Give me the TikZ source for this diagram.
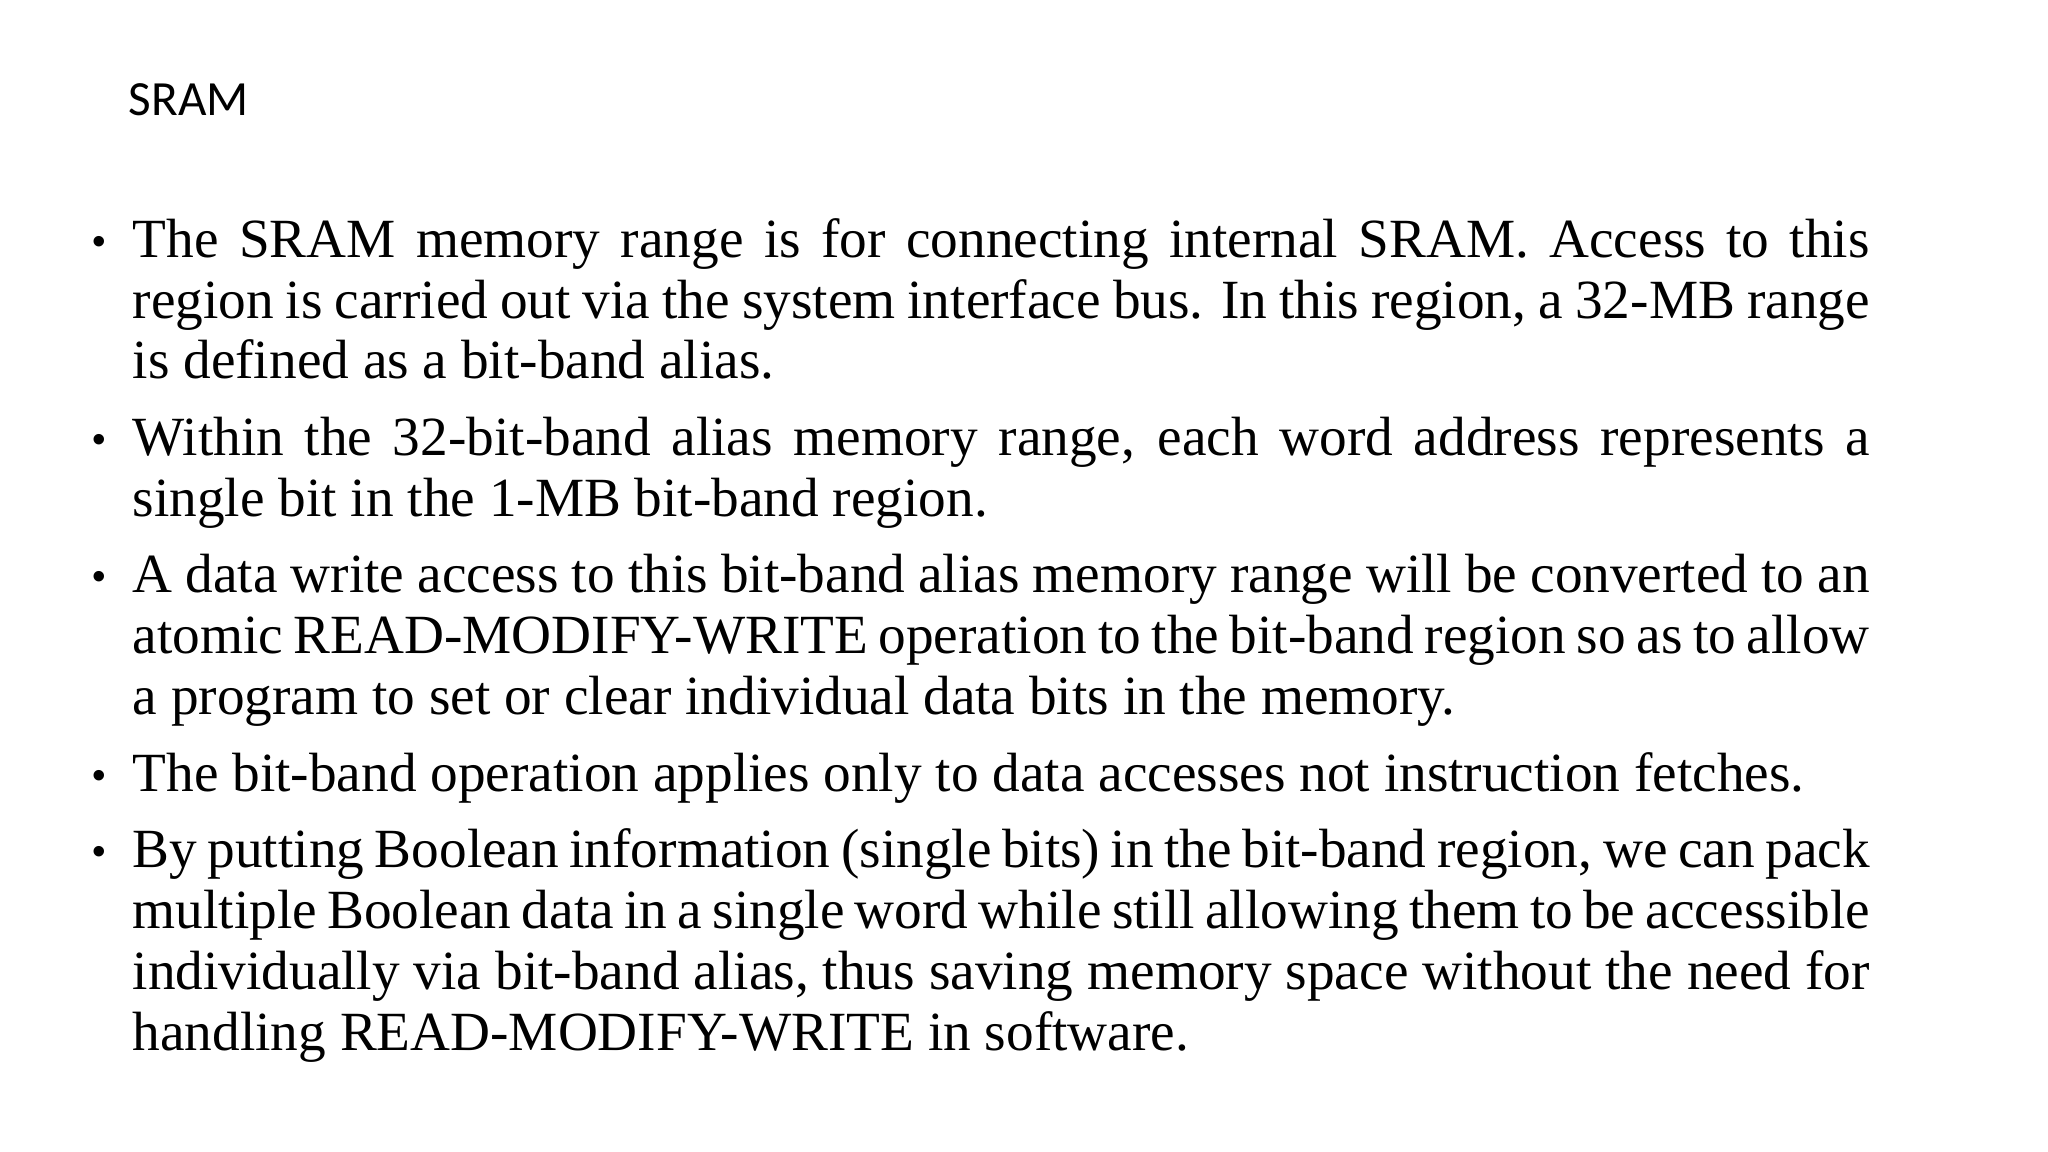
\documentclass[tikz,border=0pt]{standalone}
\usepackage{fontspec}
\setmainfont{Liberation Serif}
\newfontfamily\titlefont{Carlito}
\newfontfamily\bulletfont{Liberation Sans}
\newcommand{\bitem}{\par\noindent\llap{{\bulletfont\fontsize{11pt}{11pt}\selectfont\raisebox{0.15ex}{\textbullet}}\hspace{0.27cm}}}
\begin{document}
\begin{tikzpicture}
\useasboundingbox[fill=white] (0,0) rectangle (20.48,11.52);
\node[anchor=base west,inner sep=0,font=\titlefont\fontsize{14pt}{16pt}\selectfont] (title) at (1.28,10.36) {SRAM};
\node[anchor=north west,inner sep=0,text width=17.37cm,align=justify,font=\fontsize{15.73pt}{17.3pt}\selectfont] (body) at (1.32,9.72) {%
\setlength{\parskip}{4.5pt}%
\bitem The SRAM memory range is for connecting internal SRAM. Access to this region is carried out via the system interface bus. In this region, a 32-MB range is defined as a bit-band alias.
\bitem Within the 32-bit-band alias memory range, each word address represents a single bit in the 1-MB bit-band region.
\bitem A data write access to this bit-band alias memory range will be converted to an atomic READ-MODIFY-WRITE operation to the bit-band region so as to allow a program to set or clear individual data bits in the memory.
\bitem The bit-band operation applies only to data accesses not instruction fetches.
\bitem By putting Boolean information (single bits) in the bit-band region, we can pack multiple Boolean data in a single word while still allowing them to be accessible individually via bit-band alias, thus saving memory space without the need for handling READ-MODIFY-WRITE in software.\par};
\end{tikzpicture}
\end{document}
